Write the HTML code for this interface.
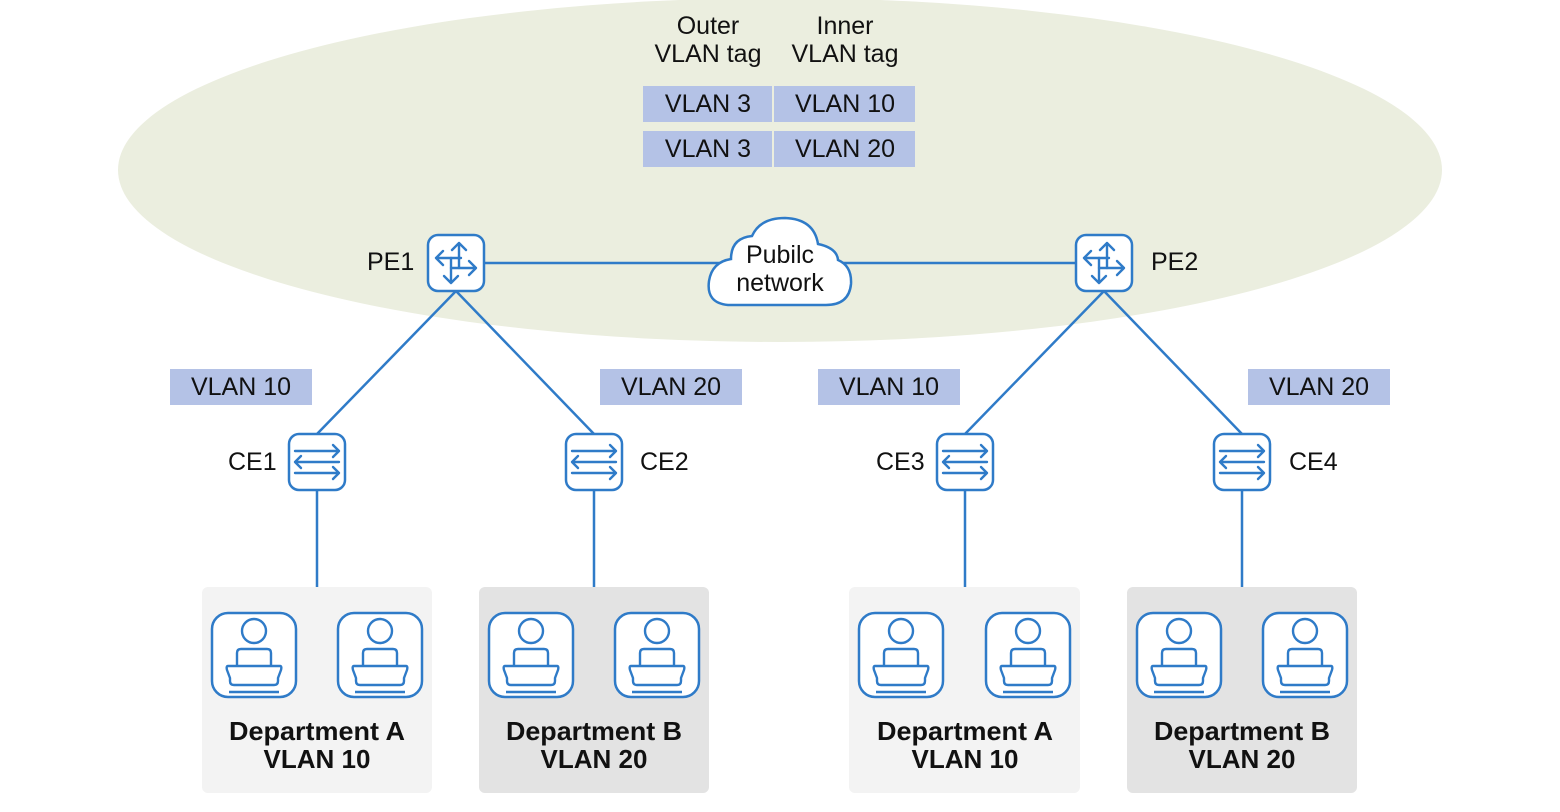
<!DOCTYPE html>
<html><head><meta charset="utf-8"><style>
html,body{margin:0;padding:0;background:#fff;}
svg{display:block;font-family:"Liberation Sans",sans-serif;}
</style></head><body>
<svg width="1560" height="812" viewBox="0 0 1560 812" xmlns="http://www.w3.org/2000/svg">
<defs>
<g id="router">
<rect x="-28" y="-28" width="56" height="56" rx="10" fill="#fff" stroke="#2f7bc8" stroke-width="2.5"/>
<g stroke="#2f7bc8" stroke-width="2.4" fill="none" stroke-linecap="round" stroke-linejoin="round">
<path d="M3 5 V-20 M-4 -13 L3 -20 L10 -13"/>
<path d="M-5 -5 V20 M-12 13 L-5 20 L2 13"/>
<path d="M5 -5 H-20 M-13 -12 L-20 -5 L-13 2"/>
<path d="M-5 5 H20 M13 -2 L20 5 L13 12"/>
</g>
</g>
<g id="switch">
<rect x="-28" y="-28" width="56" height="56" rx="10" fill="#fff" stroke="#2f7bc8" stroke-width="2.5"/>
<g stroke="#2f7bc8" stroke-width="2.4" fill="none" stroke-linecap="round" stroke-linejoin="round">
<path d="M-22 -11 H22 M16 -17 L22 -11 L16 -5"/>
<path d="M22 0 H-22 M-16 -6 L-22 0 L-16 6"/>
<path d="M-22 11 H22 M16 5 L22 11 L16 17"/>
</g>
</g>
<g id="user">
<rect x="0" y="0" width="84" height="84" rx="16" fill="#fff" stroke="#2f7bc8" stroke-width="2.5"/>
<g stroke="#2f7bc8" stroke-width="2.4" fill="none" stroke-linejoin="round">
<circle cx="42" cy="18" r="12"/>
<path d="M25 53 V40 Q25 36 29 36 H55 Q59 36 59 40 V53"/>
<path d="M16 53 H68 Q70 53 69 57 L66 65 V68 Q66 72 62 72 H22 Q18 72 18 68 V65 L15 57 Q14 53 16 53 Z"/>
<path d="M17 79 H67"/>
</g>
</g>
</defs>
<ellipse cx="780" cy="170" rx="662" ry="172" fill="#ebeedf"/>
<g font-size="25" fill="#111" text-anchor="middle">
<text x="708" y="34">Outer</text><text x="708" y="62">VLAN tag</text>
<text x="845" y="34">Inner</text><text x="845" y="62">VLAN tag</text>
</g>
<g fill="#b4c2e6">
<rect x="643" y="86" width="129" height="36"/><rect x="774" y="86" width="141" height="36"/>
<rect x="643" y="131" width="129" height="36"/><rect x="774" y="131" width="141" height="36"/>
<rect x="170" y="369" width="142" height="36"/><rect x="600" y="369" width="142" height="36"/>
<rect x="818" y="369" width="142" height="36"/><rect x="1248" y="369" width="142" height="36"/>
</g>
<g font-size="25" fill="#111" text-anchor="middle">
<text x="708" y="112">VLAN 3</text><text x="845" y="112">VLAN 10</text>
<text x="708" y="157">VLAN 3</text><text x="845" y="157">VLAN 20</text>
<text x="241" y="395">VLAN 10</text><text x="671" y="395">VLAN 20</text>
<text x="889" y="395">VLAN 10</text><text x="1319" y="395">VLAN 20</text>
</g>
<g stroke="#2f7bc8" stroke-width="2.5">
<line x1="456" y1="263" x2="1104" y2="263"/>
<line x1="456" y1="291" x2="317" y2="434"/><line x1="456" y1="291" x2="594" y2="434"/>
<line x1="1104" y1="291" x2="965" y2="434"/><line x1="1104" y1="291" x2="1242" y2="434"/>
<line x1="317" y1="490" x2="317" y2="587"/><line x1="594" y1="490" x2="594" y2="587"/>
<line x1="965" y1="490" x2="965" y2="587"/><line x1="1242" y1="490" x2="1242" y2="587"/>
</g>
<path d="M728 305 Q706 303 709 281 Q712 262 731 259 Q731 238 752 236 Q760 218 785 218 Q814 219 818 244 Q837 248 838 260 Q852 266 851 284 Q849 305 826 305 Z" fill="#fff" stroke="#2f7bc8" stroke-width="2.5"/>
<g font-size="25" fill="#111" text-anchor="middle">
<text x="780" y="263">Pubilc</text><text x="780" y="291">network</text>
</g>
<use href="#router" x="456" y="263"/><use href="#router" x="1104" y="263"/>
<use href="#switch" x="317" y="462"/><use href="#switch" x="594" y="462"/>
<use href="#switch" x="965" y="462"/><use href="#switch" x="1242" y="462"/>
<g font-size="25" fill="#111">
<text x="367" y="270">PE1</text><text x="1151" y="270">PE2</text>
<text x="228" y="470">CE1</text><text x="640" y="470">CE2</text>
<text x="876" y="470">CE3</text><text x="1289" y="470">CE4</text>
</g>
<rect x="202" y="587" width="230" height="206" rx="6" fill="#f3f3f3"/>
<rect x="479" y="587" width="230" height="206" rx="6" fill="#e3e3e3"/>
<rect x="849" y="587" width="231" height="206" rx="6" fill="#f3f3f3"/>
<rect x="1127" y="587" width="230" height="206" rx="6" fill="#e3e3e3"/>
<use href="#user" x="212" y="613"/><use href="#user" x="338" y="613"/>
<use href="#user" x="489" y="613"/><use href="#user" x="615" y="613"/>
<use href="#user" x="859" y="613"/><use href="#user" x="986" y="613"/>
<use href="#user" x="1137" y="613"/><use href="#user" x="1263" y="613"/>
<g font-size="26" font-weight="bold" fill="#111" text-anchor="middle" textLength="175">
<text x="317" y="740" textLength="176" lengthAdjust="spacingAndGlyphs">Department A</text><text x="317" y="768">VLAN 10</text>
<text x="594" y="740" textLength="176" lengthAdjust="spacingAndGlyphs">Department B</text><text x="594" y="768">VLAN 20</text>
<text x="965" y="740" textLength="176" lengthAdjust="spacingAndGlyphs">Department A</text><text x="965" y="768">VLAN 10</text>
<text x="1242" y="740" textLength="176" lengthAdjust="spacingAndGlyphs">Department B</text><text x="1242" y="768">VLAN 20</text>
</g>
</svg>
</body></html>
